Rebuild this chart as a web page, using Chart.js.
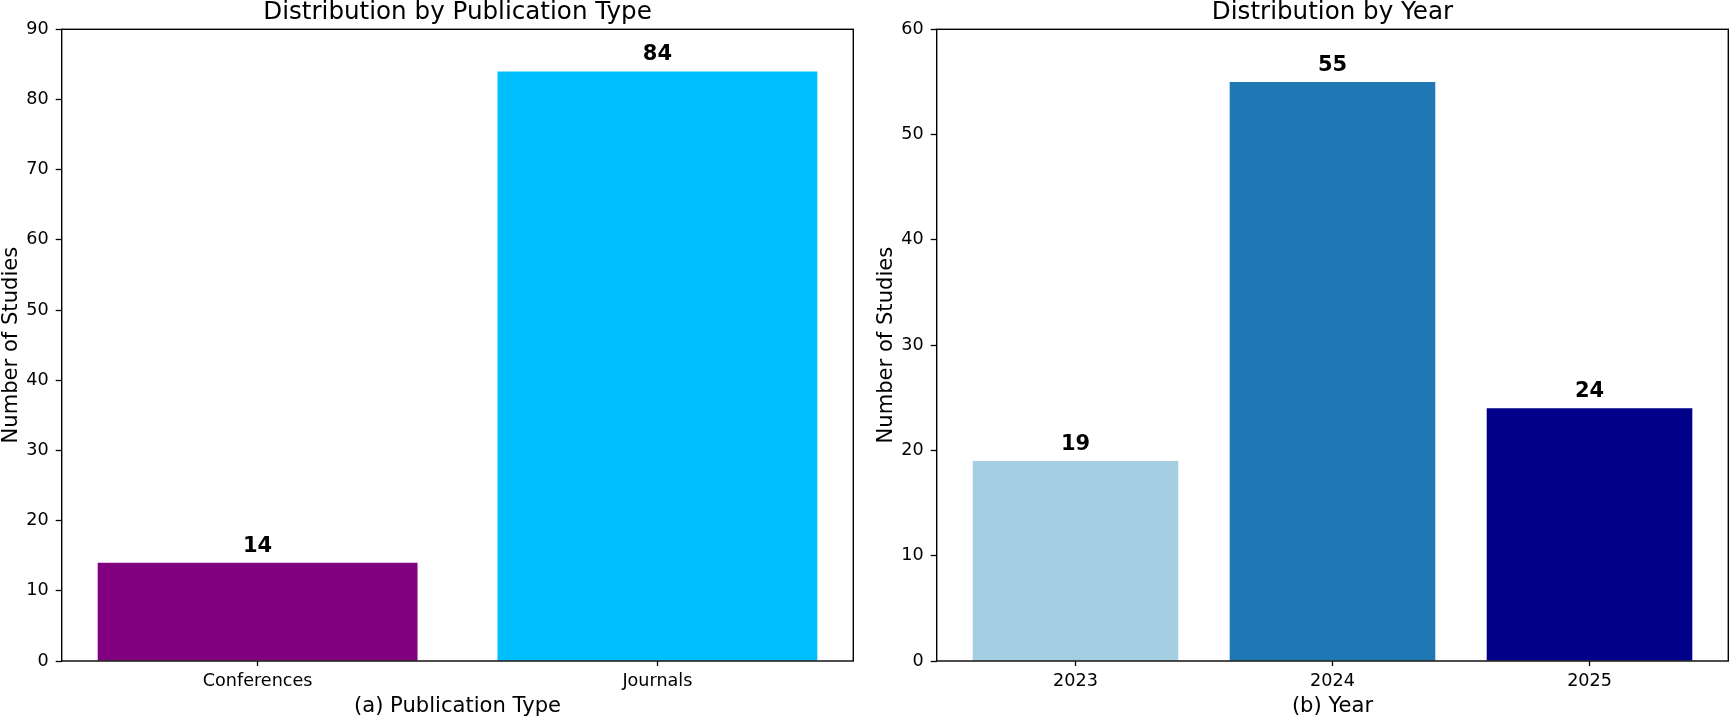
<!DOCTYPE html>
<html>
<head>
<meta charset="utf-8">
<script src="https://cdn.jsdelivr.net/npm/chart.js@4/dist/chart.umd.min.js"></script>
<style>
  html, body { margin: 0; padding: 0; background: #fff; }
  body { width: 1730px; height: 718px; position: relative; overflow: hidden; }
  canvas { position: absolute; top: 0; }
  #typeChart { left: 0; }
  #yearChart { left: 875px; }
</style>
</head>
<body>
<canvas id="typeChart" width="865" height="718"></canvas>
<canvas id="yearChart" width="855" height="718"></canvas>
<script>
// data
const typeLabels = ['Conferences', 'Journals'];
const typeCounts = [14, 84];
const typeColors = ['#800080', '#00BFFF'];

const yearLabels = ['2023', '2024', '2025'];
const yearCounts = [19, 55, 24];
const yearColors = ['#A6CEE3', '#1F78B4', '#00008B'];

Chart.defaults.font.family = '"DejaVu Sans", sans-serif';
Chart.defaults.color = '#000';

// spines box, bold numbers above bars, and title centred on the plot area
const framePlugin = {
  id: 'frame',
  afterDatasetsDraw(chart, args, opts) {
    const { ctx, chartArea: a } = chart;
    ctx.save();
    ctx.font = 'bold 21px "DejaVu Sans"';
    ctx.fillStyle = '#000';
    ctx.textAlign = 'center';
    ctx.textBaseline = 'alphabetic';
    const meta = chart.getDatasetMeta(0);
    meta.data.forEach((bar, i) => {
      const v = chart.data.datasets[0].data[i].y;
      ctx.fillText(String(v), bar.x, bar.y - 11);
    });
    ctx.font = '24.6px "DejaVu Sans"';
    ctx.fillText(opts.title, (a.left + a.right) / 2, a.top - 10);
    ctx.strokeStyle = '#000';
    ctx.lineWidth = 1.4;
    ctx.strokeRect(a.left, a.top, a.right - a.left, a.bottom - a.top);
    ctx.restore();
  }
};

function makeChart(id, title, xTitle, labels, counts, colors, xMin, xMax, yMax, rightPad) {
  new Chart(document.getElementById(id), {
    type: 'bar',
    data: {
      datasets: [{
        data: counts.map((c, i) => ({ x: i, y: c })),
        backgroundColor: colors,
        borderWidth: 0,
        barPercentage: 0.8,
        categoryPercentage: 1
      }]
    },
    options: {
      responsive: false,
      animation: false,
      devicePixelRatio: 1,
      layout: { padding: { left: 0, right: rightPad, top: 29.3, bottom: 0 } },
      scales: {
        x: {
          type: 'linear',
          min: xMin,
          max: xMax,
          offset: false,
          afterBuildTicks: s => { s.ticks = labels.map((l, i) => ({ value: i })); },
          afterFit: s => { s.height = 57; },
          ticks: {
            callback: v => labels[v],
            font: { size: 17.6 },
            padding: 4.5,
            maxRotation: 0
          },
          grid: { offset: false, drawOnChartArea: false, drawTicks: true, tickLength: 5, tickColor: '#000', tickWidth: 1.3 },
          border: { display: false },
          title: {
            display: true,
            text: xTitle,
            font: { size: 21.1, lineHeight: 1 },
            padding: { top: 0, bottom: 1 }
          }
        },
        y: {
          min: 0,
          max: yMax,
          afterFit: s => { s.width = 61.7; },
          ticks: { stepSize: 10, font: { size: 17.6 }, padding: 7 },
          grid: { drawOnChartArea: false, drawTicks: true, tickLength: 6, tickColor: '#000', tickWidth: 1.3 },
          border: { display: false },
          title: {
            display: true,
            text: 'Number of Studies',
            font: { size: 21.1, lineHeight: 1 },
            padding: { top: 1, bottom: 0 }
          }
        }
      },
      plugins: {
        legend: { display: false },
        tooltip: { enabled: false },
        title: { display: false },
        frame: { title: title }
      }
    },
    plugins: [framePlugin]
  });
}

makeChart('typeChart', 'Distribution by Publication Type', '(a) Publication Type',
  typeLabels, typeCounts, typeColors, -0.49, 1.49, 90, 11.7);
makeChart('yearChart', 'Distribution by Year', '(b) Year',
  yearLabels, yearCounts, yearColors, -0.54, 2.54, 60, 1.7);
</script>
</body>
</html>
